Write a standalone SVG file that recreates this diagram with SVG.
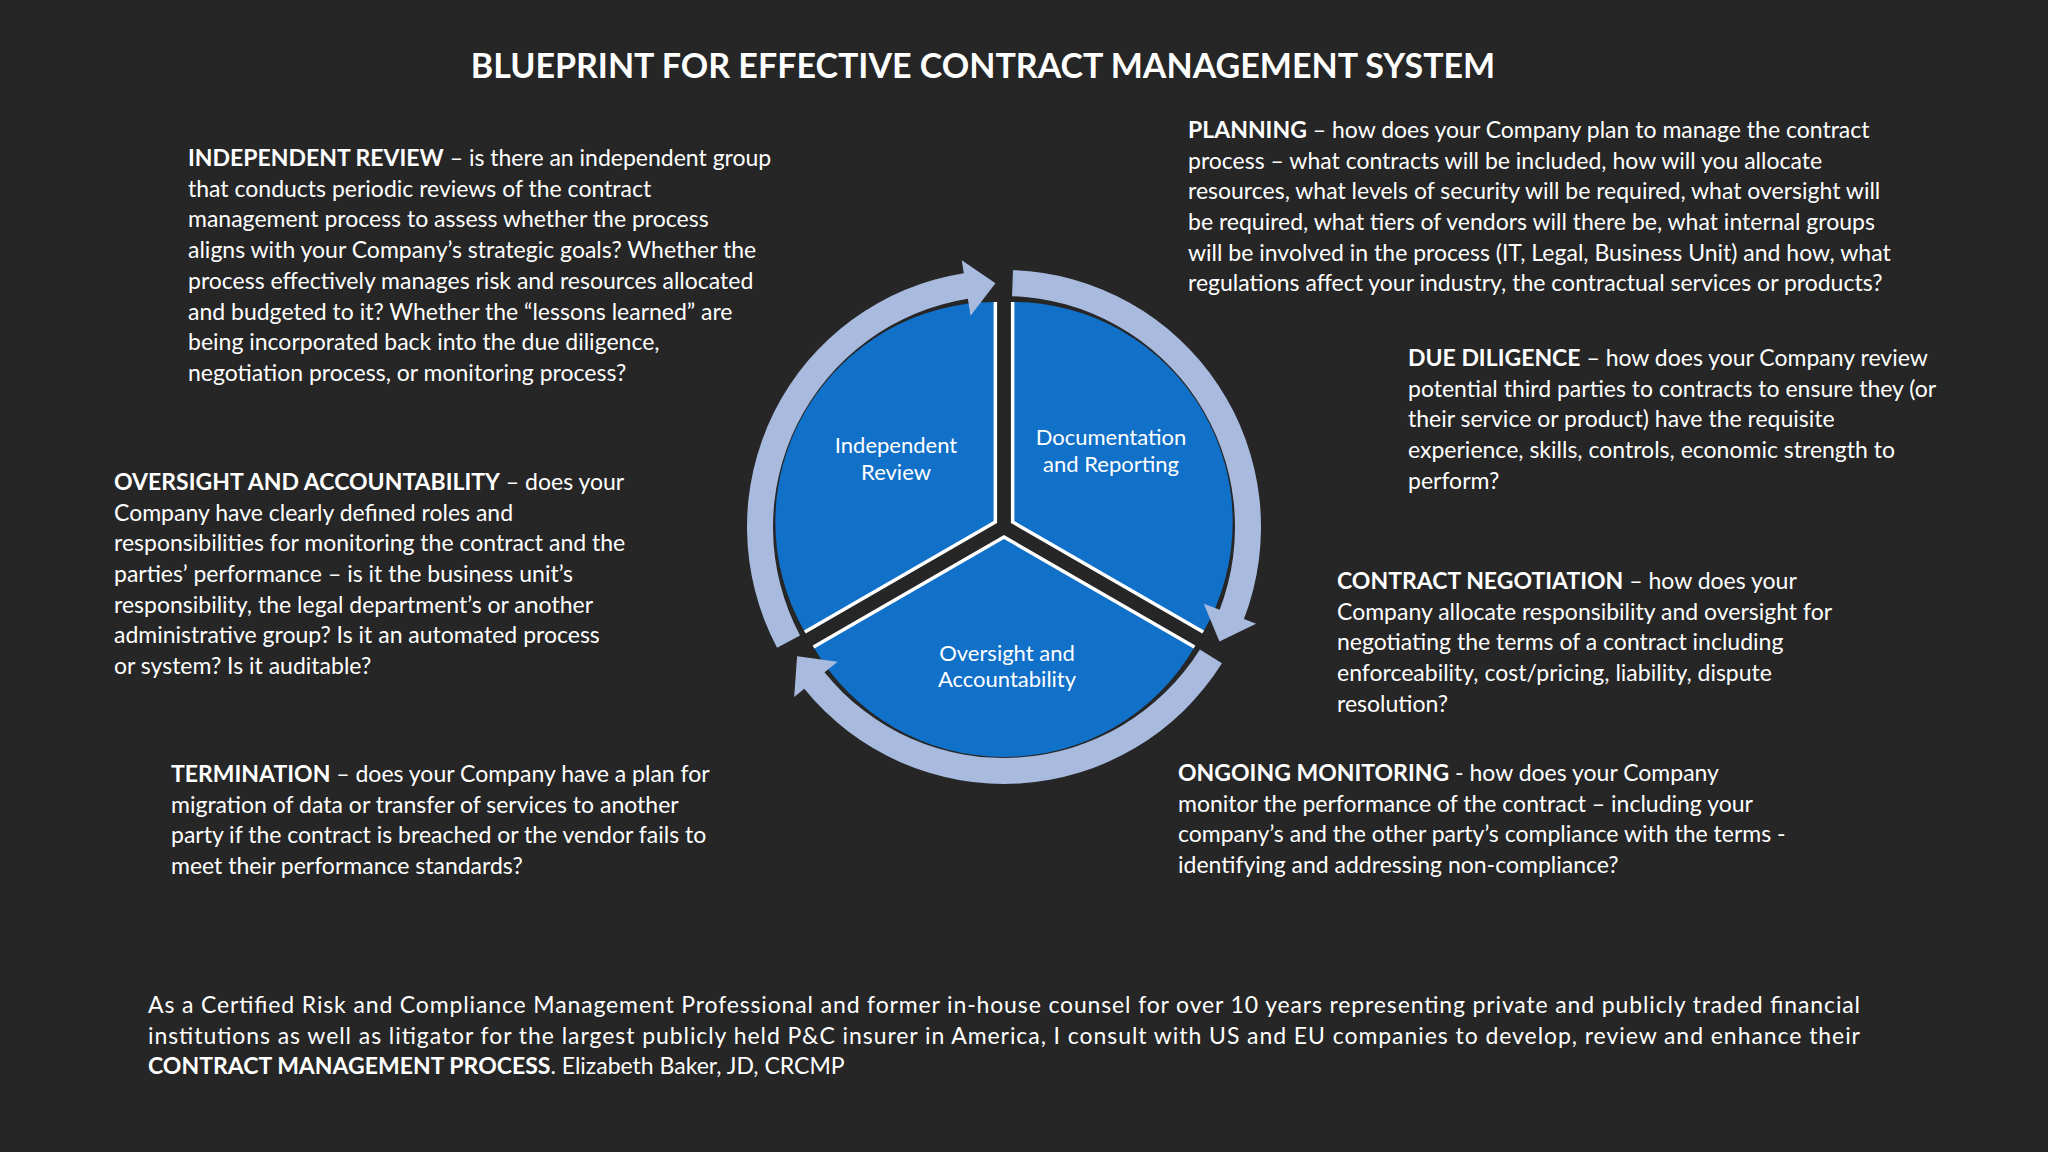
<svg xmlns="http://www.w3.org/2000/svg" width="2048" height="1152" viewBox="0 0 2048 1152">
<style>
.t{font-family:Lato,"Open Sans","Liberation Sans",sans-serif;font-size:23px;fill:#fff}
.b{font-weight:bold}
.seg{fill:#1170c8}
.edge{fill:none;stroke:#fff;stroke-width:3.5}
.ring{fill:#a9badf}
.lbl{font-family:Lato,"Open Sans","Liberation Sans",sans-serif;font-size:22px;fill:#fff;text-anchor:middle}
</style>
<rect width="2048" height="1152" fill="#262626"/>
<text x="983" y="78" class="t b" style="font-size:34px" text-anchor="middle">BLUEPRINT FOR EFFECTIVE CONTRACT MANAGEMENT SYSTEM</text>
<g id="pie">
<g id="documentation">
<path class="seg" d="M1012.66,522 L1012.66,302 A220,220 0 0 1 1203.2,632 Z"/>
<polyline class="edge" points="1012.66,302 1012.66,522 1203.2,632"/>
<text class="lbl" x="1111" y="445">Documentation</text><text class="lbl" x="1111" y="472">and Reporting</text>
</g>
<g id="oversight">
<path class="seg" d="M1004,537 L1194.5,647 A220,220 0 0 1 813.5,647 Z"/>
<polyline class="edge" points="1194.5,647 1004,537 813.5,647"/>
<text class="lbl" x="1007" y="661">Oversight and</text><text class="lbl" x="1007" y="687">Accountability</text>
</g>
<g id="independent">
<path class="seg" d="M995.34,522 L804.8,632 A220,220 0 0 1 995.34,302 Z"/>
<polyline class="edge" points="804.8,632 995.34,522 995.34,302"/>
<text class="lbl" x="896" y="453">Independent</text><text class="lbl" x="896" y="480">Review</text>
</g>
</g>
<g id="connectors">
<path class="ring" d="M1012.97,270.15 A257,257 0 0 1 1243.94,619.11 L1256.07,623.77 L1219.43,641.56 L1203.79,603.70 L1219.66,609.79 A231,231 0 0 0 1012.06,296.14 Z"/>
<path class="ring" d="M1221.94,663.18 A257,257 0 0 1 804.29,688.73 L794.18,696.91 L797.09,656.30 L837.70,661.67 L824.49,672.37 A231,231 0 0 0 1199.89,649.41 Z"/>
<path class="ring" d="M777.09,647.66 A257,257 0 0 1 963.81,273.16 L961.77,260.32 L995.48,283.15 L970.53,315.63 L967.87,298.84 A231,231 0 0 0 800.05,635.45 Z"/>
</g>
<g id="independent-review-text">
<text class="t" x="188" y="166"><tspan class="b">INDEPENDENT REVIEW</tspan> – is there an independent group</text>
<text class="t" x="188" y="197">that conducts periodic reviews of the contract</text>
<text class="t" x="188" y="227">management process to assess  whether the process</text>
<text class="t" x="188" y="258">aligns with your Company’s strategic goals? Whether the</text>
<text class="t" x="188" y="289">process effectively manages risk and resources allocated</text>
<text class="t" x="188" y="320">and budgeted to it? Whether the “lessons learned” are</text>
<text class="t" x="188" y="350">being incorporated back into the due diligence,</text>
<text class="t" x="188" y="381">negotiation process, or monitoring process?</text>
</g>
<g id="oversight-text">
<text class="t" x="114" y="490"><tspan class="b">OVERSIGHT AND ACCOUNTABILITY</tspan> – does your</text>
<text class="t" x="114" y="521">Company have clearly defined roles and</text>
<text class="t" x="114" y="551">responsibilities for monitoring the contract and the</text>
<text class="t" x="114" y="582">parties’ performance  – is it the business unit’s</text>
<text class="t" x="114" y="613">responsibility, the legal department’s or another</text>
<text class="t" x="114" y="643">administrative group?  Is it an automated process</text>
<text class="t" x="114" y="674">or system?  Is it auditable?</text>
</g>
<g id="termination-text">
<text class="t" x="171" y="782"><tspan class="b">TERMINATION</tspan> – does your Company have a plan for</text>
<text class="t" x="171" y="813">migration of data or transfer of services to another</text>
<text class="t" x="171" y="843">party if the contract is breached or the vendor fails to</text>
<text class="t" x="171" y="874">meet their performance standards?</text>
</g>
<g id="planning-text">
<text class="t" x="1188" y="138"><tspan class="b">PLANNING</tspan> – how does your Company plan to manage the contract</text>
<text class="t" x="1188" y="169">process – what contracts will be included, how will you allocate</text>
<text class="t" x="1188" y="199">resources, what levels of security will be required, what oversight will</text>
<text class="t" x="1188" y="230">be required, what tiers of vendors will there be, what internal groups</text>
<text class="t" x="1188" y="261">will be involved in the process (IT, Legal, Business Unit) and how, what</text>
<text class="t" x="1188" y="291">regulations affect your industry, the contractual services or products?</text>
</g>
<g id="due-diligence-text">
<text class="t" x="1408" y="366"><tspan class="b">DUE DILIGENCE</tspan> – how does your Company review</text>
<text class="t" x="1408" y="397">potential third parties to contracts to ensure they (or</text>
<text class="t" x="1408" y="427">their service or product) have the requisite</text>
<text class="t" x="1408" y="458">experience, skills, controls, economic strength to</text>
<text class="t" x="1408" y="489">perform?</text>
</g>
<g id="negotiation-text">
<text class="t" x="1337" y="589"><tspan class="b">CONTRACT NEGOTIATION</tspan> – how does your</text>
<text class="t" x="1337" y="620">Company allocate responsibility and oversight for</text>
<text class="t" x="1337" y="650">negotiating the terms of a contract including</text>
<text class="t" x="1337" y="681">enforceability, cost/pricing, liability, dispute</text>
<text class="t" x="1337" y="712">resolution?</text>
</g>
<g id="monitoring-text">
<text class="t" x="1178" y="781"><tspan class="b">ONGOING MONITORING</tspan>  - how does your Company</text>
<text class="t" x="1178" y="812">monitor the performance of the contract – including your</text>
<text class="t" x="1178" y="842">company’s and the other party’s compliance with the terms -</text>
<text class="t" x="1178" y="873">identifying and addressing non-compliance?</text>
</g>
<g id="footer">
<text class="t" x="148" y="1013" textLength="1712" lengthAdjust="spacing">As a Certified Risk and Compliance Management Professional and former in-house counsel for over 10 years representing private and publicly traded financial</text>
<text class="t" x="148" y="1044" textLength="1712" lengthAdjust="spacing">institutions as well as litigator for the largest publicly held P&amp;C insurer in America, I consult with US and EU companies to develop, review and enhance their</text>
<text class="t" x="148" y="1074"><tspan class="b">CONTRACT MANAGEMENT PROCESS</tspan>.  Elizabeth Baker, JD, CRCMP</text>
</g>
</svg>
